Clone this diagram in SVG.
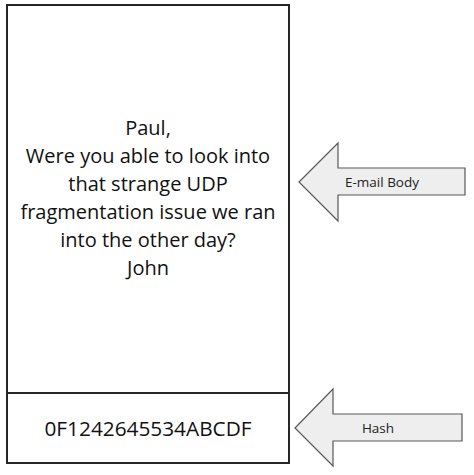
<svg xmlns="http://www.w3.org/2000/svg" width="474" height="475" viewBox="0 0 474 475">
<style>
.box{fill:#fff;stroke:#262626;stroke-width:2}
.arrow{fill:#eeeeee;stroke:#595959;stroke-width:1.2}
.body{font-family:"Open Sans","Liberation Sans",sans-serif;font-size:20px;fill:#111;text-anchor:middle}
.lbl{font-family:"Open Sans","Liberation Sans",sans-serif;font-size:13.5px;fill:#222;text-anchor:middle;dominant-baseline:central}
</style>
<rect width="474" height="475" fill="#fff"/>
<g id="email-body">
<rect class="box" x="7" y="5" width="282" height="388"/>
<text class="body" x="148" y="135">Paul,</text>
<text class="body" x="148" y="163">Were you able to look into</text>
<text class="body" x="148" y="191">that strange UDP</text>
<text class="body" x="148" y="219">fragmentation issue we ran</text>
<text class="body" x="148" y="247">into the other day?</text>
<text class="body" x="148" y="275">John</text>
</g>
<g id="hash-box">
<rect class="box" x="7" y="393" width="282" height="70"/>
<text class="body" x="148" y="436" style="font-size:20.8px">0F1242645534ABCDF</text>
</g>
<g id="connectors">
<g id="arrow-body">
<polygon class="arrow" points="299,182 338,143 338,168 465,168 465,195 338,195 338,221"/>
<text class="lbl" x="382" y="182">E-mail Body</text>
</g>
<g id="arrow-hash">
<polygon class="arrow" points="295,428 333,389 333,414 462,414 462,441 333,441 333,466"/>
<text class="lbl" x="378" y="428">Hash</text>
</g>
</g>
</svg>
